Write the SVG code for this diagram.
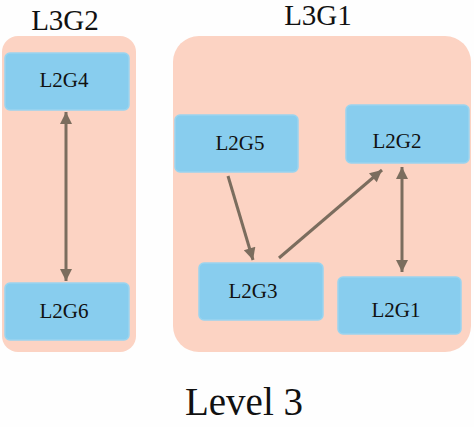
<svg xmlns="http://www.w3.org/2000/svg" width="474" height="427" viewBox="0 0 474 427" font-family="Liberation Serif, Times New Roman, serif">
<style>
.cl{fill:#fcd3c3;}
.nd{fill:#88cdee;stroke:#9ad4ef;stroke-width:1.5;}
.t{fill:#111;text-anchor:middle;}
.e{stroke:#7b6d5e;stroke-width:3;fill:none;}
</style>
<defs>
<marker id="ah" viewBox="0 0 10 10" refX="10" refY="5" markerWidth="5.5" markerHeight="4" orient="auto-start-reverse" markerUnits="strokeWidth">
<path d="M0,0 L10,5 L0,10 z" fill="#7b6d5e"/>
</marker>
</defs>
<rect width="474" height="427" fill="#fefefe"/>
<g id="L3G2">
<rect class="cl" x="2" y="36" width="134" height="316" rx="16"/>
<text class="t" x="65" y="30" font-size="29">L3G2</text>
</g>
<g id="L3G1">
<rect class="cl" x="173" y="36" width="298" height="316" rx="26"/>
<text class="t" x="318" y="25" font-size="29">L3G1</text>
</g>
<g id="edges">
<line class="e" x1="66" y1="112" x2="66" y2="281" marker-start="url(#ah)" marker-end="url(#ah)"/>
<line class="e" x1="228" y1="176" x2="253" y2="260" marker-end="url(#ah)"/>
<line class="e" x1="279" y1="258" x2="382" y2="170" marker-end="url(#ah)"/>
<line class="e" x1="402" y1="167" x2="402" y2="272" marker-start="url(#ah)" marker-end="url(#ah)"/>
</g>
<g id="L2G4">
<rect class="nd" x="5" y="53" width="124" height="57" rx="5"/>
<text class="t" x="64" y="87" font-size="21">L2G4</text>
</g>
<g id="L2G6">
<rect class="nd" x="5" y="283" width="124" height="57" rx="5"/>
<text class="t" x="64" y="318" font-size="21">L2G6</text>
</g>
<g id="L2G5">
<rect class="nd" x="175" y="115" width="123" height="57" rx="5"/>
<text class="t" x="240" y="150" font-size="21">L2G5</text>
</g>
<g id="L2G2">
<rect class="nd" x="346" y="105" width="123" height="58" rx="5"/>
<text class="t" x="397" y="148" font-size="21">L2G2</text>
</g>
<g id="L2G3">
<rect class="nd" x="199" y="263" width="124" height="57" rx="5"/>
<text class="t" x="253" y="298" font-size="21">L2G3</text>
</g>
<g id="L2G1">
<rect class="nd" x="338" y="277" width="123" height="57" rx="5"/>
<text class="t" x="396" y="317" font-size="21">L2G1</text>
</g>
<text class="t" x="244" y="415" font-size="39">Level 3</text>
</svg>
